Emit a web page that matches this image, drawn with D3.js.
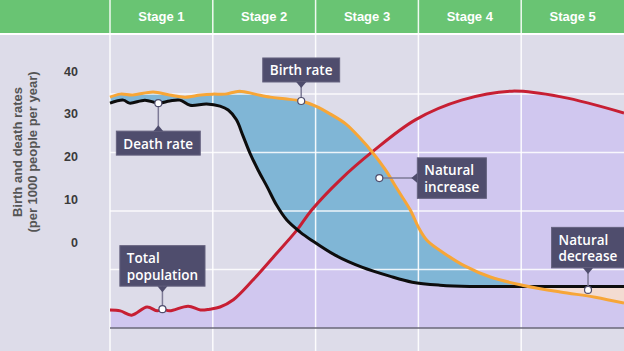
<!DOCTYPE html>
<html>
<head>
<meta charset="utf-8">
<script src="https://cdn.jsdelivr.net/npm/d3@7"></script>
<style>
  body { margin: 0; background: #dddce9; }
  svg { display: block; }
</style>
</head>
<body>
<div id="chart"></div>
<script>
const width = 624;
const height = 351;

// Column headings and y axis labels
const stages = ["Stage 1", "Stage 2", "Stage 3", "Stage 4", "Stage 5"];
const yTicks = [0, 10, 20, 30, 40];

// Birth rate (x in stage units, 0 = start of stage 1)
const birthStage = [0, 0.10, 0.22, 0.42, 0.58, 0.73, 0.88, 1.00, 1.12, 1.26, 1.41, 1.56, 1.70, 1.86, 2.00, 2.14, 2.29, 2.43, 2.55, 2.68, 2.80, 2.92, 3.01, 3.09, 3.26, 3.45, 3.70, 4.01, 4.38, 4.72, 5.00];
const birthRate  = [33.9, 34.6, 34.4, 35.1, 34.4, 33.9, 34.4, 34.6, 34.6, 35.3, 34.6, 33.9, 33.5, 33.0, 31.8, 30.0, 27.7, 24.4, 21.1, 16.9, 12.2, 7.6, 3.1, 0.3, -2.7, -5.5, -8.1, -10.0, -11.6, -12.8, -14.2];

// Death rate
const deathStage = [0, 0.13, 0.19, 0.34, 0.47, 0.58, 0.68, 0.78, 0.94, 1.07, 1.15, 1.23, 1.29, 1.36, 1.44, 1.53, 1.62, 1.72, 1.85, 1.96, 2.19, 2.45, 2.72, 2.94, 3.21, 3.50, 4.01, 5.00];
const deathRate  = [32.5, 33.2, 32.5, 33.2, 32.5, 33.0, 33.2, 32.0, 32.3, 31.8, 30.9, 28.6, 25.1, 20.9, 16.9, 12.9, 8.7, 5.2, 2.4, 0.5, -3.0, -5.8, -7.9, -9.3, -10.0, -10.3, -10.3, -10.3];

// Total population (drawn on the same scale)
const popStage = [0, 0.10, 0.21, 0.36, 0.46, 0.51, 0.58, 0.76, 0.88, 0.97, 1.07, 1.20, 1.39, 1.59, 1.82, 1.96, 2.24, 2.55, 2.97, 3.42, 3.91, 4.40, 5.00];
const popValue = [-15.8, -16.0, -17.0, -15.1, -16.0, -15.6, -16.0, -14.9, -15.8, -15.6, -15.1, -13.4, -8.8, -3.4, 2.9, 7.5, 14.6, 21.1, 28.6, 33.2, 35.3, 33.9, 30.2];

const birth = birthStage.map((s, i) => ({ s, v: birthRate[i] }));
const death = deathStage.map((s, i) => ({ s, v: deathRate[i] }));
const pop = popStage.map((s, i) => ({ s, v: popValue[i] }));

// Callouts
const callouts = [
    { text: ["Birth rate"], s: 1.86, v: 33.0, side: "top", gap: 19 },
    { text: ["Death rate"], s: 0.47, v: 32.5, side: "bottom", gap: 28 },
    { text: ["Natural", "increase"], s: 2.62, v: 15.0, side: "right", gap: 38 },
    { text: ["Total", "population"], s: 0.51, v: -15.6, side: "top", gap: 23 },
    { text: ["Natural", "decrease"], s: 4.65, v: -11.1, side: "top", gap: 22 }
];

const x = d3.scaleLinear().domain([0, 5]).range([110, 624]);
const y = d3.scaleLinear().domain([-20, 40]).range([328, 71]);
const gridY = d3.scaleLinear().domain([0, 4]).range([328, 94]);

const svg = d3.select("#chart").append("svg")
    .attr("width", width)
    .attr("height", height);

svg.append("rect").attr("width", width).attr("height", height).attr("fill", "#dddce9");

const curve = d3.curveCatmullRom.alpha(0.5);
const line = d3.line().x(d => x(d.s)).y(d => y(d.v)).curve(curve);

// Clip regions above / below the birth rate line
const defs = svg.append("defs");
defs.append("clipPath").attr("id", "belowBirth").append("path")
    .attr("d", d3.area().x(d => x(d.s)).y0(height).y1(d => y(d.v)).curve(curve)(birth));
defs.append("clipPath").attr("id", "aboveBirth").append("path")
    .attr("d", d3.area().x(d => x(d.s)).y0(0).y1(d => y(d.v)).curve(curve)(birth));

// Population area
svg.append("path")
    .attr("d", d3.area().x(d => x(d.s)).y0(y(-20)).y1(d => y(d.v)).curve(curve)(pop))
    .attr("fill", "#d0c7ef");

// Natural increase (birth above death)
svg.append("path")
    .attr("clip-path", "url(#belowBirth)")
    .attr("d", d3.area().x(d => x(d.s)).y0(0).y1(d => y(d.v)).curve(curve)(death))
    .attr("fill", "#80b6d6");

// Natural decrease (death above birth)
svg.append("path")
    .attr("clip-path", "url(#aboveBirth)")
    .attr("d", d3.area().x(d => x(d.s)).y0(height).y1(d => y(d.v)).curve(curve)(death))
    .attr("fill", "#f3dcd2");

// Header
svg.append("rect").attr("x", 0).attr("y", 0).attr("width", width).attr("height", 33).attr("fill", "#69c473");
svg.append("line")
    .attr("x1", 0).attr("x2", width).attr("y1", 34).attr("y2", 34)
    .attr("stroke", "#fff").attr("stroke-width", 2);

// Grid
svg.selectAll(".hgrid")
    .data([1, 2, 3, 4])
    .join("line")
    .attr("class", "hgrid")
    .attr("x1", x(0)).attr("x2", x(5))
    .attr("y1", d => gridY(d)).attr("y2", d => gridY(d))
    .attr("stroke", "#fff").attr("stroke-opacity", 0.85).attr("stroke-width", 1.5);

svg.selectAll(".vgrid")
    .data(d3.range(stages.length))
    .join("line")
    .attr("class", "vgrid")
    .attr("x1", d => x(d)).attr("x2", d => x(d))
    .attr("y1", 0).attr("y2", height)
    .attr("stroke", "#fff").attr("stroke-opacity", 0.9).attr("stroke-width", 1.5);

svg.selectAll(".stage")
    .data(stages)
    .join("text")
    .attr("class", "stage")
    .attr("x", (d, i) => x(i + 0.5))
    .attr("y", 21)
    .attr("text-anchor", "middle")
    .style("font-family", "'Liberation Sans', Arial, sans-serif")
    .style("font-weight", "bold")
    .style("font-size", "13px")
    .attr("fill", "#fff")
    .text(d => d);

// Baseline
svg.append("line")
    .attr("x1", x(0)).attr("x2", x(5))
    .attr("y1", y(-20)).attr("y2", y(-20))
    .attr("stroke", "#6a6878").attr("stroke-width", 1.5);

// Y axis
svg.selectAll(".tick")
    .data(yTicks)
    .join("text")
    .attr("class", "tick")
    .attr("x", 78)
    .attr("y", d => y(d) + 4.5)
    .attr("text-anchor", "end")
    .style("font-family", "'Liberation Sans', Arial, sans-serif")
    .style("font-weight", "bold")
    .style("font-size", "12.5px")
    .attr("fill", "#3a3a3a")
    .text(d => d);

const yTitle = svg.append("text")
    .attr("transform", "translate(22,152) rotate(-90)")
    .attr("text-anchor", "middle")
    .style("font-family", "'Liberation Sans', Arial, sans-serif")
    .style("font-weight", "bold")
    .style("font-size", "13px")
    .attr("fill", "#555");
yTitle.append("tspan").attr("x", 0).attr("dy", 0).text("Birth and death rates");
yTitle.append("tspan").attr("x", 0).attr("dy", 14.5).text("(per 1000 people per year)");

// Lines
svg.append("path").attr("d", line(pop)).attr("fill", "none").attr("stroke", "#c71f33").attr("stroke-width", 3);
svg.append("path").attr("d", line(death)).attr("fill", "none").attr("stroke", "#0d0d0d").attr("stroke-width", 3);
svg.append("path").attr("d", line(birth)).attr("fill", "none").attr("stroke", "#f7a637").attr("stroke-width", 3);

// Callouts
const boxFill = "#4f4d6d";
callouts.forEach(c => {
    const g = svg.append("g");
    const px = x(c.s), py = y(c.v);
    const pad = 7;
    const h = 24 + (c.text.length - 1) * 16.5;

    const conn = g.append("line").attr("stroke", "#7d7a96").attr("stroke-width", 1.5);
    const box = g.append("rect").attr("fill", boxFill).attr("stroke", "#65627f").attr("stroke-width", 1);
    const tri = g.append("path").attr("fill", boxFill);
    const txt = g.append("text")
        .style("font-family", "'Open Sans', 'Noto Sans', sans-serif")
        .style("font-weight", 600)
        .style("font-size", "13.5px")
        .attr("fill", "#fff");
    c.text.forEach((t, i) => txt.append("tspan").attr("x", 0).attr("dy", i === 0 ? 0 : 16.5).text(t));
    const w = txt.node().getBBox().width + pad * 2;

    let bx, by;
    if (c.side === "top") {
        bx = px - w / 2; by = py - c.gap - h;
        tri.attr("d", `M${px - 5},${by + h}L${px + 5},${by + h}L${px},${by + h + 6}Z`);
        conn.attr("x1", px).attr("x2", px).attr("y1", by + h).attr("y2", py);
    } else if (c.side === "bottom") {
        bx = px - w / 2; by = py + c.gap;
        tri.attr("d", `M${px - 5},${by}L${px + 5},${by}L${px},${by - 6}Z`);
        conn.attr("x1", px).attr("x2", px).attr("y1", by).attr("y2", py);
    } else {
        bx = px + c.gap; by = py - h / 2;
        tri.attr("d", `M${bx},${py - 5}L${bx},${py + 5}L${bx - 6},${py}Z`);
        conn.attr("x1", bx).attr("x2", px).attr("y1", py).attr("y2", py);
    }
    box.attr("x", bx).attr("y", by).attr("width", w).attr("height", h);
    txt.attr("transform", `translate(${bx + pad},${by + 17.5})`);

    g.append("circle").attr("cx", px).attr("cy", py).attr("r", 3.5)
        .attr("fill", "#fff").attr("stroke", boxFill).attr("stroke-width", 1.2);
});
</script>
</body>
</html>
